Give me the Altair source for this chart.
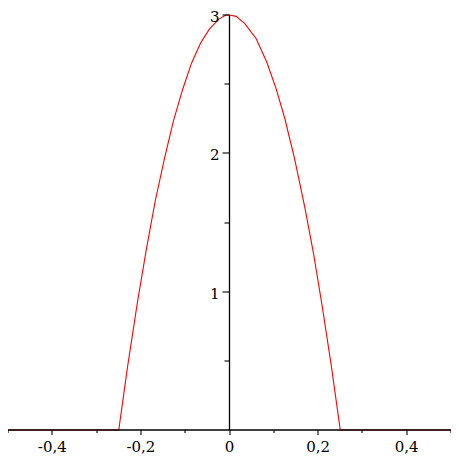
import altair as alt
import pandas as pd


# curve points
xs = [-0.5, -0.25, -0.23, -0.208, -0.188, -0.168, -0.147, -0.127, -0.106, -0.086,
      -0.065, -0.045, -0.024, -0.008, 0.0, 0.015, 0.034, 0.060, 0.084, 0.105,
      0.125, 0.147, 0.170, 0.190, 0.210, 0.230, 0.25, 0.5]
ys = [0, 0, 0.46, 0.92, 1.30, 1.65, 1.96, 2.23, 2.46, 2.65,
      2.80, 2.90, 2.97, 3.00, 3.00, 2.99, 2.94, 2.83, 2.66, 2.47,
      2.25, 1.96, 1.61, 1.27, 0.88, 0.46, 0, 0]

# axis ticks
x_major = [-0.4, -0.2, 0, 0.2, 0.4]
x_labels = ["-0,4", "-0,2", "0", "0,2", "0,4"]
x_minor = [-0.5, -0.3, -0.1, 0.1, 0.3, 0.5]
y_major = [1, 2, 3]
y_labels = ["1", "2", "3"]
y_minor = [0.5, 1.5, 2.5]

data = pd.DataFrame({'x': xs, 'y': ys})

W = 443
H = 415


def label_expr(values, labels):
    parts = ["abs(datum.value - ({})) < 1e-6 ? '{}'".format(v, l) for v, l in zip(values, labels)]
    return " : ".join(parts) + " : ''"


xscale = alt.Scale(domain=[-0.5, 0.5], nice=False, zero=False)
yscale = alt.Scale(domain=[0, 3], nice=False)

curve = alt.Chart(data).mark_line(color='#ff0000', strokeWidth=1.1).encode(
    alt.X('x:Q', scale=xscale, axis=alt.Axis(
        orient='bottom', values=x_major, labelExpr=label_expr(x_major, x_labels),
        tickSize=5, labelPadding=5, title=None, zindex=1
    )),
    alt.Y('y:Q', scale=yscale, axis=alt.Axis(
        orient='left', values=y_major, labelExpr=label_expr(y_major, y_labels),
        tickSize=7, labelPadding=3, labelOffset=2, offset=-W / 2, title=None, zindex=1
    ))
)

minor = alt.Chart(data).mark_line(opacity=0).encode(
    alt.X('x:Q', scale=xscale, axis=alt.Axis(
        orient='bottom', values=x_minor, tickSize=3, labels=False,
        domain=False, title=None, zindex=1
    )),
    alt.Y('y:Q', scale=yscale, axis=alt.Axis(
        orient='left', values=y_minor, tickSize=5, labels=False,
        domain=False, offset=-W / 2, title=None, zindex=1
    ))
)

chart = alt.layer(curve, minor).resolve_axis(
    x='independent', y='independent'
).properties(
    width=W, height=H,
    autosize=alt.AutoSizeParams(type='none'),
    padding={'left': 0, 'top': 7, 'right': 0, 'bottom': 25}
).configure_axis(
    grid=False, translate=0,
    domainColor='black', domainWidth=1.3,
    tickColor='black', tickWidth=1.1,
    labelFont='DejaVu Serif', labelFontSize=15, labelColor='black'
).configure_view(
    stroke=None
)

chart.save("out.html", embed_options={"renderer": "svg", "actions": False})
